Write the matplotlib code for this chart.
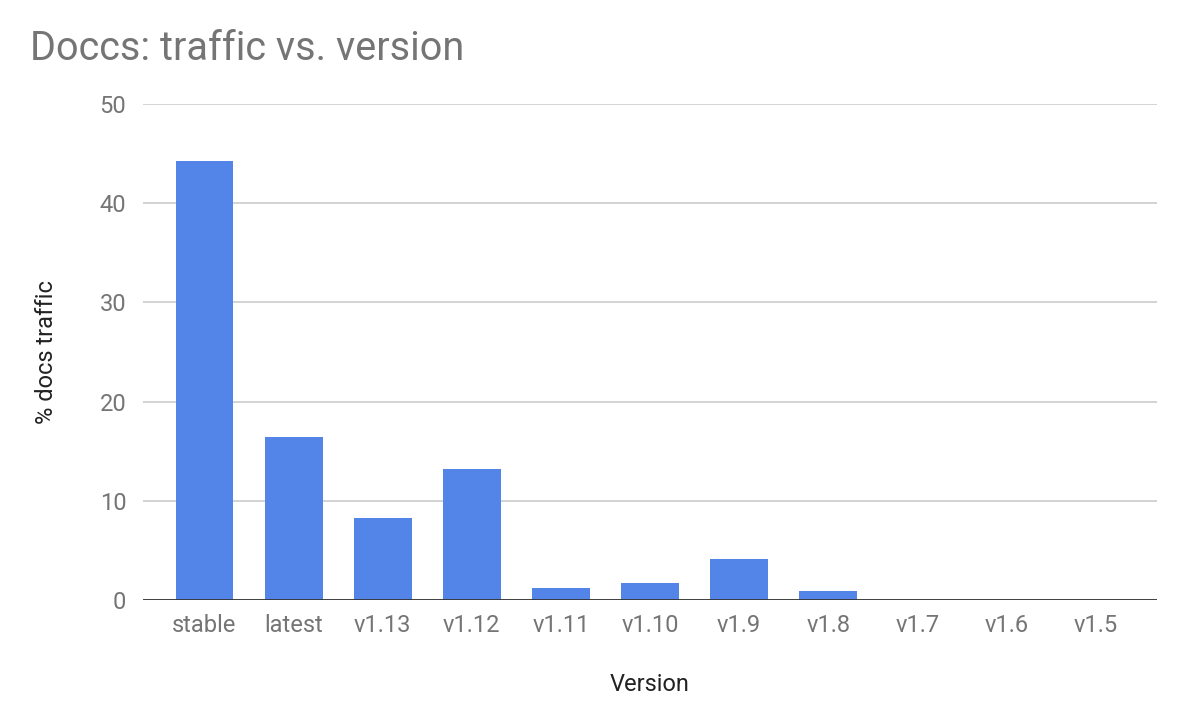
import numpy as np
import matplotlib.pyplot as plt

versions = ['stable', 'latest', 'v1.13', 'v1.12', 'v1.11', 'v1.10',
            'v1.9', 'v1.8', 'v1.7', 'v1.6', 'v1.5']
traffic = [44.2, 16.4, 8.3, 13.2, 1.2, 1.7, 4.1, 0.9, 0.0, 0.0, 0.0]
yticks = [0, 10, 20, 30, 40, 50]

plt.rcParams['font.family'] = ['Roboto', 'DejaVu Sans']
grey = '#757575'

fig = plt.figure(figsize=(11.86, 7.2), dpi=100)
ax = fig.add_axes([0.1206, 0.1667, 0.855, 0.689])

x = np.arange(len(versions))
ax.bar(x, traffic, width=0.65, color='#5385e9', zorder=3)

ax.set_xlim(-0.69, len(versions) - 1 + 0.69)
ax.set_ylim(0, 50)
ax.set_yticks(yticks)
ax.set_xticks(x)
ax.set_xticklabels(versions)
ax.grid(axis='y', color='#cccccc', linewidth=1.2, zorder=0)
ax.axhline(0, color='#333333', linewidth=2, zorder=4)

for s in ax.spines.values():
    s.set_visible(False)
ax.tick_params(length=0, labelsize=17, labelcolor=grey)
ax.tick_params(axis='x', pad=10)
ax.tick_params(axis='y', pad=12)

ax.set_xlabel('Version', fontsize=17, color='#222222', labelpad=26)
ax.set_ylabel('% docs traffic', fontsize=17, color='#222222', labelpad=30)
fig.text(0.025, 0.932, 'Doccs: traffic vs. version', fontsize=28.5,
         color=grey, va='center')

fig.savefig('out.png', dpi=100)
